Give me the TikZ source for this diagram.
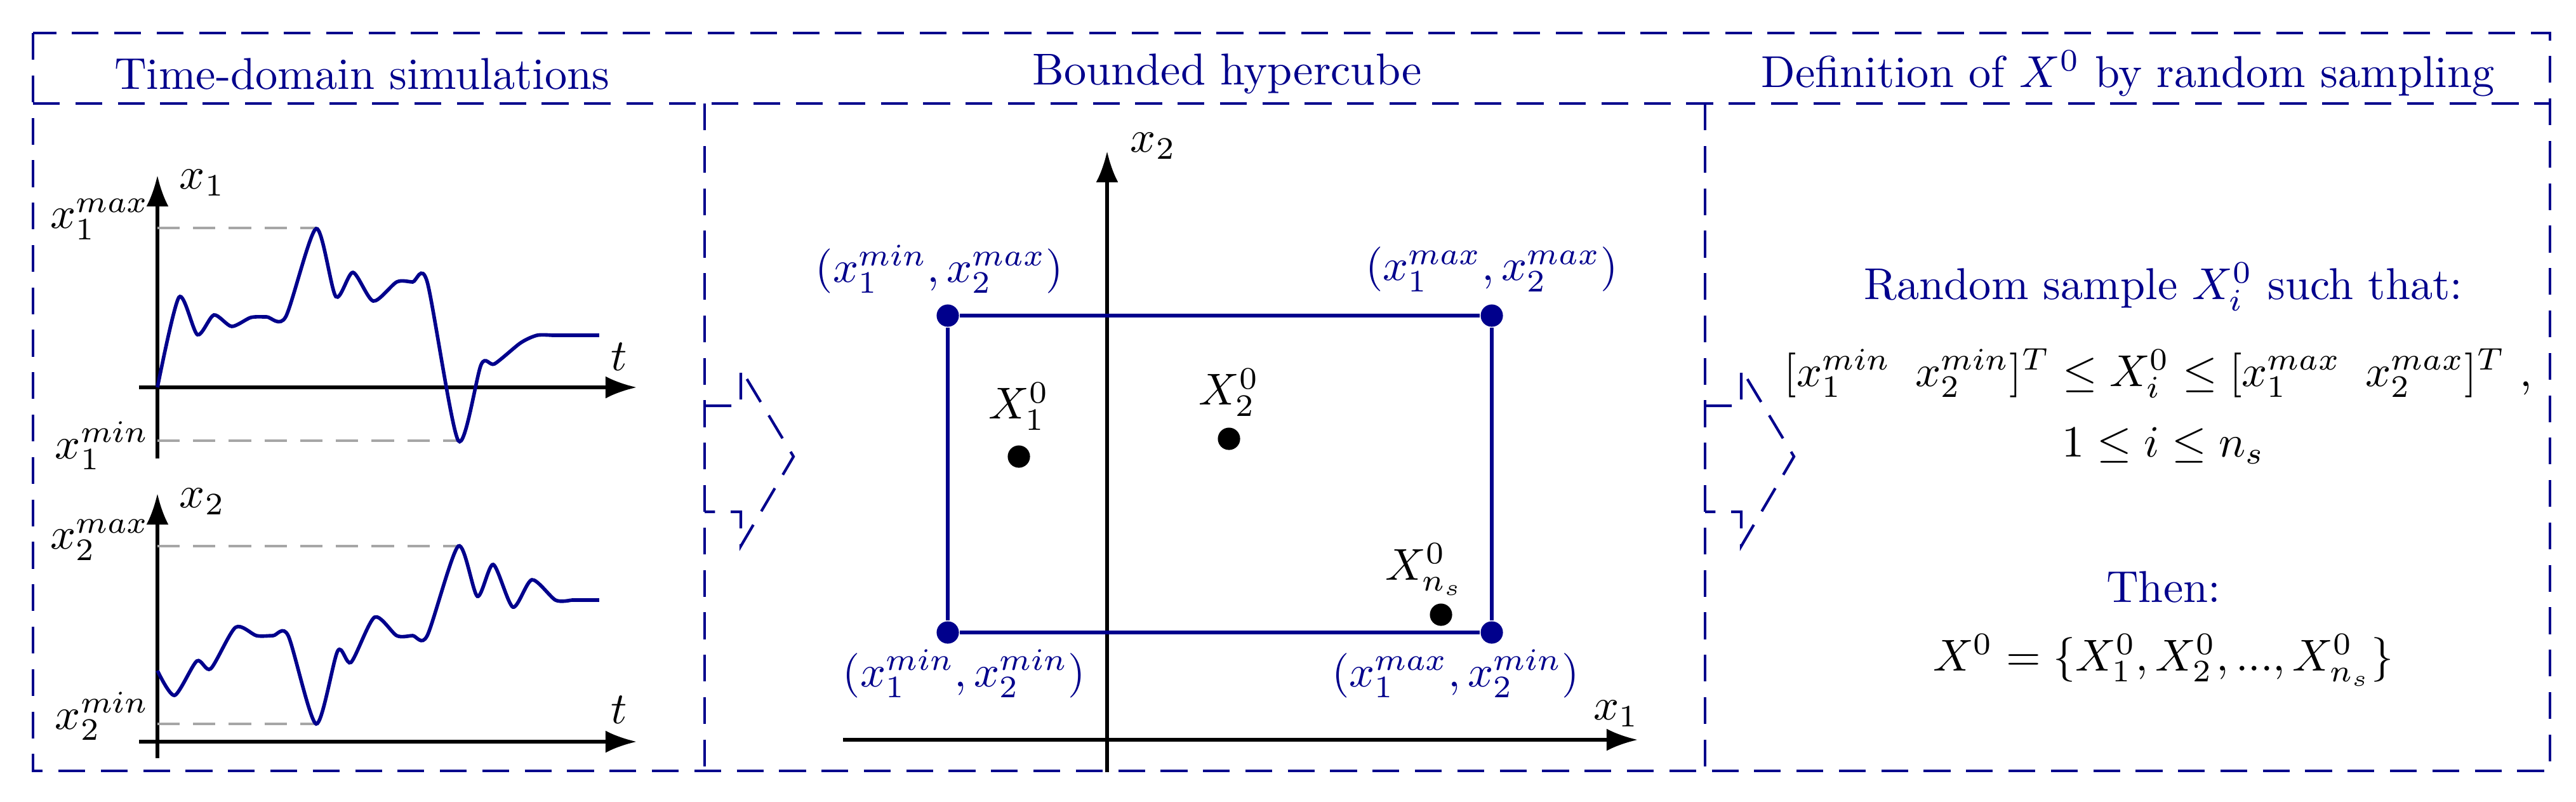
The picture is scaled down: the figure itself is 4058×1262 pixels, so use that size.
\documentclass[tikz,border=0pt]{standalone}
\usetikzlibrary{arrows.meta}
\definecolor{nb}{RGB}{0,0,140}
\begin{document}
\begin{tikzpicture}[x=0.05mm,y=-0.05mm,
  frame/.style={nb,line width=0.6pt,dash pattern=on 6pt off 3.5pt},
  ax/.style={line width=0.8pt,-{Latex[length=7pt,width=5pt]}},
  guide/.style={gray!70,line width=0.6pt,dash pattern=on 5pt off 3pt},
  sig/.style={nb,line width=0.8pt},
  ttl/.style={nb},
  pt/.style={circle,fill=nb,inner sep=0pt,minimum size=5pt},
  bp/.style={circle,fill=black,inner sep=0pt,minimum size=5pt}]
\useasboundingbox (0,0) rectangle (4058,1262);
% frame
\draw[frame] (52,52) rectangle (4017,1214);
\draw[frame] (52,163) -- (4017,163);
\draw[frame] (1110,163) -- (1110,1214);
\draw[frame] (2686,163) -- (2686,1214);
\node[ttl] (t1) at (570,116) {Time-domain simulations};
\node[ttl] (t2) at (1933,116) {Bounded hypercube};
\node[ttl] (t3) at (3352,116) {Definition of $X^0$ by random sampling};
% arrows
\foreach \x in {1110,2686}{
  \draw[frame] (\x,639) -- ++(57,0) -- ++(0,-58) -- ++(83,138) -- ++(-83,141) -- ++(0,-54) -- ++(-57,0);
}
% left plot 1
\coordinate (o1b) at (248,722); \coordinate (o1t) at (248,276);
\coordinate (h1l) at (219,610); \coordinate (h1r) at (1003,610);
\draw[ax] (o1b) -- (o1t);
\draw[ax] (h1l) -- (h1r);
\node[anchor=west] (lx1) at (258,288) {$x_1$};
\node (lt1) at (975,562) {$t$};
\draw[guide] (248,359) -- (498,359);
\draw[guide] (248,694) -- (722,694);
\node[anchor=east] (l1max) at (260,345) {$x_1^{max}$};
\node[anchor=east] (l1min) at (260,702) {$x_1^{min}$};
\draw[sig] plot[smooth,tension=0.45] coordinates {(248,610)(282,468)(311,527)(337,496)(365,514)(395,500)(420,499)(450,499)(498,360)(529,467)(556,429)(588,474)(625,444)(650,444)(673,444)(722,694)(758,574)(779,573)(820,540)(846,528)(870,528)};
\draw[sig] (870,528) -- (944,528);
% left plot 2
\coordinate (o2b) at (248,1194); \coordinate (o2t) at (248,777);
\coordinate (h2l) at (219,1168); \coordinate (h2r) at (1003,1168);
\draw[ax] (o2b) -- (o2t);
\draw[ax] (h2l) -- (h2r);
\node[anchor=west] (lx2) at (258,790) {$x_2$};
\node (lt2) at (975,1118) {$t$};
\draw[guide] (248,860) -- (722,860);
\draw[guide] (248,1140) -- (498,1140);
\node[anchor=east] (l2max) at (260,850) {$x_2^{max}$};
\node[anchor=east] (l2min) at (260,1128) {$x_2^{min}$};
\draw[sig] plot[smooth,tension=0.45] coordinates {(248,1056)(275,1095)(310,1041)(332,1053)(371,988)(404,1001)(430,1001)(454,1001)(498,1140)(532,1025)(553,1043)(590,972)(625,1001)(650,1001)(673,1001)(722,860)(752,939)(777,889)(808,956)(838,913)(875,945)(900,945)};
\draw[sig] (900,945) -- (944,945);
% middle
\coordinate (vb) at (1744,1216); \coordinate (vt) at (1744,238);
\coordinate (hl) at (1328,1165); \coordinate (hr) at (2580,1165);
\draw[ax] (vb) -- (vt);
\draw[ax] (hl) -- (hr);
\node[anchor=west] (mx2) at (1756,230) {$x_2$};
\node (mx1) at (2546,1124) {$x_1$};
\node[pt] (c1) at (1493,497) {};
\node[pt] (c2) at (2350,497) {};
\node[pt] (c3) at (2350,996) {};
\node[pt] (c4) at (1493,996) {};
\draw[nb,line width=0.8pt] (c1) -- (c2) -- (c3) -- (c4) -- (c1);
\node[nb] (lc1) at (1480,424) {$(x_1^{min},x_2^{max})$};
\node[nb] (lc2) at (2350,424) {$(x_1^{max},x_2^{max})$};
\node[nb] (lc4) at (1519,1061) {$(x_1^{min},x_2^{min})$};
\node[nb] (lc3) at (2293,1061) {$(x_1^{max},x_2^{min})$};
\node[bp] (p1) at (1605,719) {};
\node (lp1) at (1605,640) {$X_1^0$};
\node[bp] (p2) at (1936,691) {};
\node (lp2) at (1936,618) {$X_2^0$};
\node[bp] (p3) at (2270,968) {};
\node (lp3) at (2244,897) {$X_{n_s}^0$};
% right
\node[nb] (r1) at (3408,452) {Random sample $X_i^0$ such that:};
\node (r2) at (3400,588) {$[x_1^{min}\;\; x_2^{min}]^T\leq X_i^0\leq[x_1^{max}\;\; x_2^{max}]^T$ ,};
\node (r3) at (3408,702) {$1\leq i\leq n_s$};
\node[nb] (r4) at (3408,924) {Then:};
\node (r5) at (3408,1040) {$X^0=\{X_1^0,X_2^0,...,X_{n_s}^0\}$};
\end{tikzpicture}
\end{document}
